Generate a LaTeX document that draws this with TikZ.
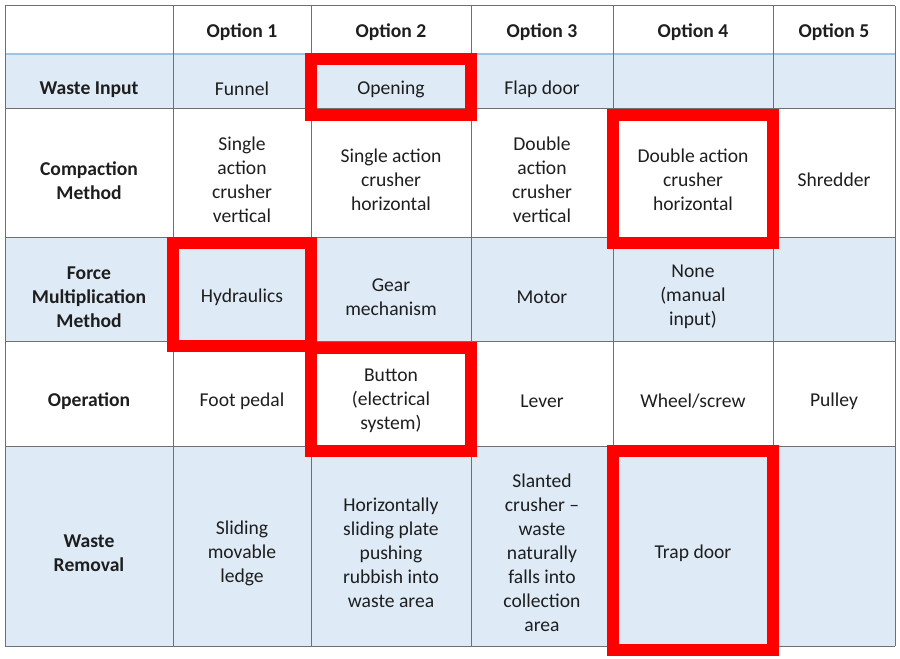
\documentclass[tikz,border=0pt]{standalone}
\usepackage{fontspec}
\setmainfont{Carlito}
\usepackage{xcolor}
\definecolor{rowblue}{HTML}{DEEAF6}
\definecolor{gridgray}{HTML}{707070}
\definecolor{headblue}{HTML}{9DC3E6}
\definecolor{textdark}{HTML}{1E1E1E}
\tikzset{
	cell/.style={align=center,text=textdark,inner sep=0pt,yshift=-0.9pt,font=\fontsize{14.7}{18}\selectfont},
	headcell/.style={cell,font=\fontsize{14.7}{18}\selectfont\bfseries},
	pick/.style={draw=red,line width=8.6pt},
}

\begin{document}
\begin{tikzpicture}[x=0.75pt,y=-0.75pt]
			\useasboundingbox (0,0) rectangle (900,659);
			% shaded rows
			\fill[rowblue] (5,54) rectangle (895,109);
			\fill[rowblue] (5,238) rectangle (895,342);
			\fill[rowblue] (5,446) rectangle (895,646);
			% grid
			\foreach \y in {6,109,238,342,446,646}
				\draw[gridgray,line width=0.75pt] (5,\y) -- (895,\y);
			\draw[headblue,line width=1.5pt] (5,54) -- (895,54);
			\foreach \x in {5,173,311,471,613,773,895}
				\draw[gridgray,line width=0.75pt] (\x,6) -- (\x,646);
			% header
			\node[headcell] (opt1) at (242,31) {Option 1};
			\node[headcell] (opt2) at (391,31) {Option 2};
			\node[headcell] (opt3) at (542,31) {Option 3};
			\node[headcell] (opt4) at (693,31) {Option 4};
			\node[headcell] (opt5) at (834,31) {Option 5};
			% waste input
			\node[headcell] (input) at (89,88) {Waste Input};
			\node[cell] (input1) at (242,88) {Funnel};
			\node[cell] (input2) at (391,88) {Opening};
			\node[cell] (input3) at (542,88) {Flap door};
			% compaction
			\node[headcell] (compact) at (89,179) {Compaction\\Method};
			\node[cell] (compact1) at (242,179) {Single\\action\\crusher\\vertical};
			\node[cell] (compact2) at (391,179) {Single action\\crusher\\horizontal};
			\node[cell] (compact3) at (542,179) {Double\\action\\crusher\\vertical};
			\node[cell] (compact4) at (693,179) {Double action\\crusher\\horizontal};
			\node[cell] (compact5) at (834,179) {Shredder};
			% force multiplication
			\node[headcell] (force) at (89,296) {Force\\Multiplication\\Method};
			\node[cell] (force1) at (242,296) {Hydraulics};
			\node[cell] (force2) at (391,296) {Gear\\mechanism};
			\node[cell] (force3) at (542,296) {Motor};
			\node[cell] (force4) at (693,296) {None\\(manual\\input)};
			% operation
			\node[headcell] (oper) at (89,400) {Operation};
			\node[cell] (oper1) at (242,400) {Foot pedal};
			\node[cell] (oper2) at (391,400) {Button\\(electrical\\system)};
			\node[cell] (oper3) at (542,400) {Lever};
			\node[cell] (oper4) at (693,400) {Wheel/screw};
			\node[cell] (oper5) at (834,400) {Pulley};
			% waste removal
			\node[headcell] (removal) at (89,552) {Waste\\Removal};
			\node[cell] (removal1) at (242,552) {Sliding\\movable\\ledge};
			\node[cell] (removal2) at (391,552) {Horizontally\\sliding plate\\pushing\\rubbish into\\waste area};
			\node[cell] (removal3) at (542,552) {Slanted\\crusher --\\waste\\naturally\\falls into\\collection\\area};
			\node[cell] (removal4) at (693,552) {Trap door};
			% chosen options
			\draw[pick] (311,59) rectangle (471,115);
			\draw[pick] (613,115) rectangle (773,243);
			\draw[pick] (173,243) rectangle (311,346);
			\draw[pick] (311,348) rectangle (471,451);
			\draw[pick] (613,451) rectangle (773,650);
		\end{tikzpicture}
\end{document}
